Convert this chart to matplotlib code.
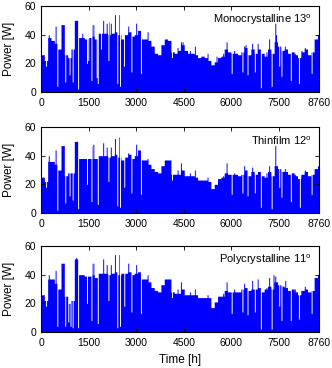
import numpy as np
import matplotlib
matplotlib.use('Agg')
import matplotlib.pyplot as plt

plt.rcParams['font.family'] = ['Liberation Sans', 'DejaVu Sans']
plt.rcParams['mathtext.fontset'] = 'custom'
plt.rcParams['mathtext.rm'] = 'Liberation Sans'

# ---------------- data ----------------
N_HOURS = 8760
BIN_H = 105  # hours per base bin

x_ticks = [0, 1500, 3000, 4500, 6000, 7500, 8760]
y_ticks = [0, 20, 40, 60]
titles = ['Monocrystalline 13$^{\\rm o}$', 'Thinfilm 12$^{\\rm o}$', 'Polycrystalline 11$^{\\rm o}$']

# Panel 1: Monocrystalline
mono_base = [26, 22, 38, 36, 34, 30, 47, 26, 24, 30,
             50, 38, 38, 37, 38, 39, 37, 41, 41, 41,
             40, 41, 42, 40, 37, 40, 42, 39, 40, 43,
             37, 37, 36, 32, 27, 26, 33, 37, 36, 28,
             27, 29, 33, 29, 27, 27, 26, 24, 25, 24,
             22, 19, 21, 24, 25, 30, 28, 27, 27, 26,
             28, 31, 26, 30, 27, 30, 27, 25, 30, 27,
             35, 32, 29, 30, 27, 28, 26, 24, 28, 30,
             26, 28, 37, 40]
mono_spike_h = [245, 460, 1300, 1600, 1650, 1960, 2070, 2140, 2200, 2330, 2470, 2750, 3000, 3360,
                4305, 4410, 4462, 4693, 4850, 5250, 5533, 5743, 5850, 6090, 6405, 6447, 6657,
                6830, 7108, 7192, 7385, 7410, 7686, 8001, 8211, 8316]
mono_spike_v = [40, 46, 41, 47, 47, 50, 48, 49, 48, 54, 54, 46, 48, 42,
                31, 35, 35, 29, 32, 27, 25, 27, 35, 29, 32, 33, 34,
                34, 28, 37, 48, 40, 32, 27, 29, 31]
mono_dip_h = [160, 515, 765, 900, 998, 1170, 1450, 1490, 1590, 1754, 1790, 1890, 2125, 2405, 2490,
              2615, 2850, 3150, 4130, 6010, 6350, 6510, 6740, 6930, 7270, 7510, 7580, 7875, 8130, 8530]
mono_dip_v = [18, 4, 7, 12, 7, 2, 20, 22, 8, 10, 6, 30, 22, 6, 4,
              18, 14, 13, 24, 13, 14, 12, 14, 3, 4, 18, 11, 8, 6, 13]

# Panel 2: Thinfilm
thin_base = [25, 22, 36, 36, 34, 30, 47, 26, 28, 28,
             50, 38, 38, 38, 38, 38, 38, 40, 40, 40,
             39, 40, 41, 39, 37, 39, 41, 38, 40, 44,
             37, 37, 34, 31, 29, 28, 33, 37, 37, 27,
             27, 27, 30, 26, 26, 26, 25, 23, 23, 23,
             22, 17, 20, 24, 25, 28, 27, 27, 27, 26,
             27, 30, 26, 29, 27, 29, 26, 25, 29, 26,
             33, 31, 29, 29, 27, 28, 26, 24, 27, 29,
             26, 27, 31, 33]
thin_spike_h = [245, 460, 1600, 1650, 1960, 2070, 2200, 2330, 2470, 2750, 3000, 3360,
                4305, 4410, 4693, 4850, 5250, 5743, 5850, 6090, 6405, 6657, 7108, 7192, 7385,
                7686, 8001, 8316]
thin_spike_v = [40, 44, 47, 48, 49, 46, 46, 52, 53, 42, 48, 38,
                30, 35, 28, 30, 25, 26, 35, 28, 33, 32, 28, 33, 47,
                31, 27, 30]
thin_dip_h = [160, 515, 765, 900, 998, 1170, 1450, 1590, 1790, 2125, 2405, 2490,
              2625, 2850, 3150, 4130, 6010, 6350, 6510, 6740, 6930, 7270, 7510, 7580, 7875, 8160, 8530]
thin_dip_v = [18, 2, 7, 12, 9, 3, 20, 8, 6, 22, 5, 4,
              18, 14, 13, 23, 13, 14, 12, 14, 4, 3, 18, 11, 8, 4, 13]

# Panel 3: Polycrystalline
poly_base = [26, 22, 37, 37, 34, 30, 48, 25, 20, 22,
             51, 40, 40, 39, 39, 40, 38, 41, 41, 41,
             40, 41, 42, 40, 41, 41, 42, 40, 41, 42,
             37, 37, 35, 31, 29, 28, 33, 37, 37, 28,
             27, 27, 30, 26, 26, 26, 26, 24, 24, 24,
             24, 17, 21, 25, 25, 29, 28, 28, 28, 28,
             30, 31, 29, 30, 30, 31, 28, 30, 32, 30,
             35, 33, 32, 31, 29, 30, 28, 26, 29, 30,
             28, 29, 38, 40]
poly_spike_h = [245, 460, 1110, 1600, 1650, 1960, 2070, 2200, 2330, 2470, 2750, 3000, 3360,
                4305, 4410, 4693, 4850, 5250, 5743, 5850, 6090, 6405, 6657, 6830, 7108, 7192,
                7330, 7385, 7700, 8001, 8316]
poly_spike_v = [40, 43, 52, 48, 48, 51, 47, 47, 54, 54, 48, 47, 40,
                30, 35, 28, 30, 26, 27, 35, 30, 34, 36, 37, 31, 38,
                40, 39, 36, 30, 32]
poly_dip_h = [160, 515, 765, 860, 930, 998, 1170, 1450, 1590, 1790, 2125, 2405, 2490,
              2625, 2850, 3150, 4130, 6010, 6350, 6510, 6740, 6930, 7270, 7510, 7580, 7875, 8130, 8530]
poly_dip_v = [18, 4, 4, 7, 4, 3, 3, 20, 8, 6, 22, 3, 4,
              18, 14, 13, 24, 13, 14, 12, 14, 2, 2, 18, 8, 8, 9, 13]

panels = [
    (mono_base, mono_spike_h, mono_spike_v, mono_dip_h, mono_dip_v),
    (thin_base, thin_spike_h, thin_spike_v, thin_dip_h, thin_dip_v),
    (poly_base, poly_spike_h, poly_spike_v, poly_dip_h, poly_dip_v),
]


def build_series(base, sh, sv, dh, dv):
    y = np.repeat(np.asarray(base, dtype=float), BIN_H)[:N_HOURS]
    for h, v in zip(sh, sv):
        a, b = max(0, h - 15), min(N_HOURS, h + 15)
        y[a:b] = np.maximum(y[a:b], v)
    for h, v in zip(dh, dv):
        a, b = max(0, h - 15), min(N_HOURS, h + 15)
        y[a:b] = np.minimum(y[a:b], v)
    return np.arange(N_HOURS), y


fig = plt.figure(figsize=(3.32, 3.68), dpi=100)
bottoms = [0.750, 0.4212, 0.0978]
for k, (p, bot) in enumerate(zip(panels, bottoms)):
    ax = fig.add_axes([0.1235, bot, 0.837, 0.2337])
    hrs, y = build_series(*p)
    ax.fill_between(hrs, 0, y, step='post', color='#0000ff', linewidth=0)
    ax.set_xlim(0, 8760)
    ax.set_ylim(0, 60)
    ax.set_xticks(x_ticks)
    ax.set_yticks(y_ticks)
    ax.tick_params(direction='in', top=True, right=True, length=3, width=0.6,
                   labelsize=7.5)
    ax.tick_params(axis='y', pad=3.5)
    ax.tick_params(axis='x', pad=4.5)
    for s in ax.spines.values():
        s.set_linewidth(0.8)
    ax.set_ylabel('Power [W]', fontsize=8.5)
    ax.yaxis.set_label_coords(-0.095, 0.5)
    ax.text(0.975, 0.84, titles[k], transform=ax.transAxes, ha='right', va='center',
            fontsize=8)
    if k == 2:
        ax.set_xlabel('Time [h]', fontsize=8.5)
        ax.xaxis.set_label_coords(0.5, -0.25)

fig.savefig('out.png', dpi=100)
